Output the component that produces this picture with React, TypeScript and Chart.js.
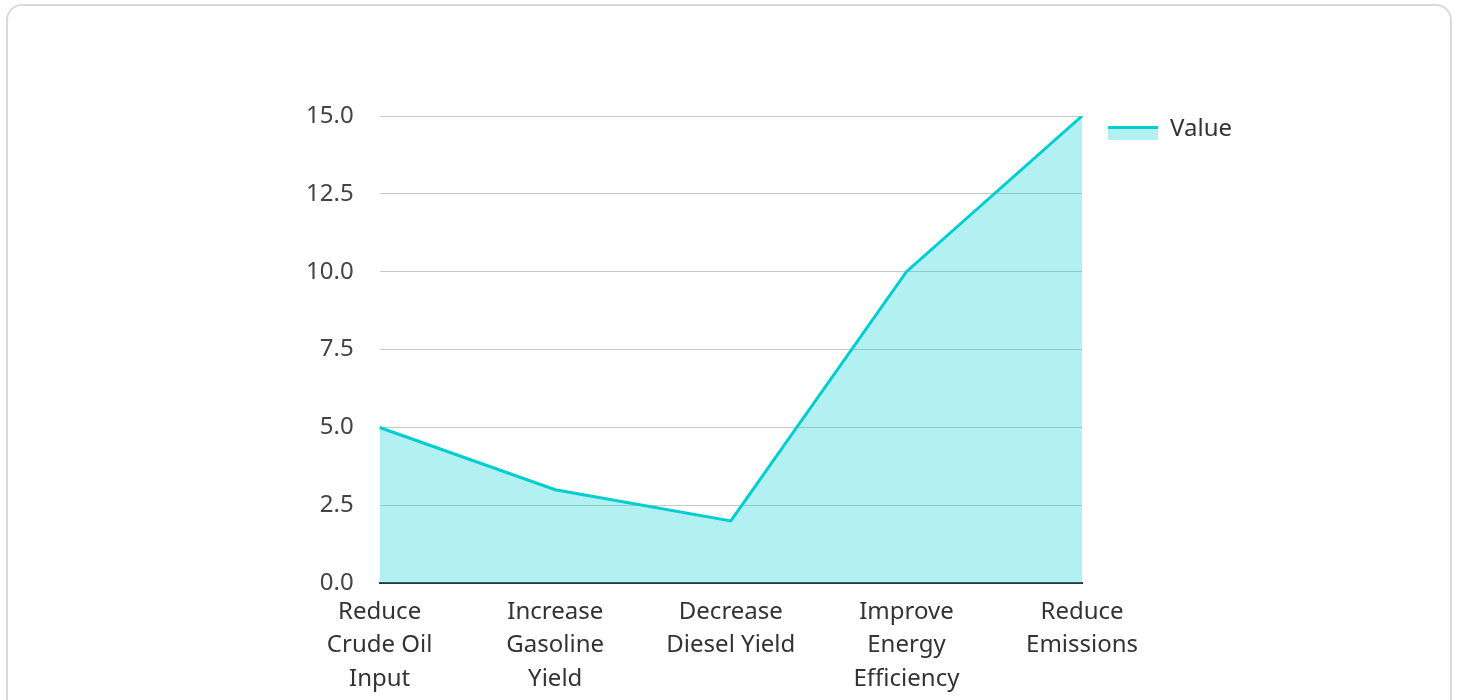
import React, { useEffect, useRef } from "react";
import { Chart, registerables } from "chart.js";

Chart.register(...registerables);

const categories: string[][] = [
  ["Reduce", "Crude Oil", "Input"],
  ["Increase", "Gasoline", "Yield"],
  ["Decrease", "Diesel Yield"],
  ["Improve", "Energy", "Efficiency"],
  ["Reduce", "Emissions"],
];
const seriesName = "Value";
const values: number[] = [5, 3, 2, 10, 15];
const yMin = 0;
const yMax = 15;
const yStep = 2.5;

const LINE = "rgb(0,206,209)";
const FILL = "rgba(0,206,209,0.3)";
const FONT = "'Noto Sans', sans-serif";

const legendBoxPlugin = {
  id: "legendBoxPlugin",
  afterDraw(chart: any) {
    const lg = chart.legend;
    if (!lg || !lg.legendHitBoxes || !lg.legendHitBoxes.length) return;
    const hb = lg.legendHitBoxes[0];
    const ctx = chart.ctx;
    const x = hb.left;
    const top = hb.top + hb.height / 2 - 3;
    ctx.save();
    ctx.fillStyle = FILL;
    ctx.fillRect(x, top, 50, 14);
    ctx.fillStyle = LINE;
    ctx.fillRect(x, top, 50, 3);
    ctx.restore();
  },
};

export default function App() {
  const ref = useRef<HTMLCanvasElement | null>(null);
  useEffect(() => {
    if (!ref.current) return;
    const chart = new Chart(ref.current, {
      type: "line",
      data: {
        labels: categories,
        datasets: [
          {
            label: seriesName,
            data: values,
            borderColor: LINE,
            backgroundColor: FILL,
            borderWidth: 3,
            fill: "origin",
            tension: 0,
            pointRadius: 0,
            pointHoverRadius: 0,
          },
        ],
      },
      options: {
        animation: false,
        responsive: false,
        maintainAspectRatio: false,
        layout: { padding: { left: 280, right: 216, top: 116, bottom: 10 } },
        plugins: {
          tooltip: { enabled: false },
          legend: {
            position: "right",
            align: "start",
            labels: {
              boxWidth: 50,
              boxHeight: 14,
              padding: 1,
              color: "#333",
              font: { family: FONT, size: 24 },
              generateLabels: (c: any) =>
                c.data.datasets.map((d: any, i: number) => ({
                  text: d.label,
                  fillStyle: "rgba(0,0,0,0)",
                  strokeStyle: "rgba(0,0,0,0)",
                  lineWidth: 0,
                  datasetIndex: i,
                  fontColor: "#333",
                })),
            },
          },
        },
        scales: {
          x: {
            offset: false,
            grid: { display: false },
            border: { display: true, color: "#333", width: 2 },
            ticks: {
              color: "#333",
              padding: 4,
              maxRotation: 0,
              autoSkip: false,
              font: { family: FONT, size: 24, lineHeight: 1.4 },
            },
          },
          y: {
            min: yMin,
            max: yMax,
            grid: { color: "#c8c8c8", lineWidth: 1, drawTicks: false },
            border: { display: false },
            ticks: {
              stepSize: yStep,
              color: "#444",
              padding: 26,
              font: { family: FONT, size: 24 },
              callback: (v: any) => Number(v).toFixed(1),
            },
          },
          gap: {
            type: "linear",
            position: "right",
            display: true,
            grid: { display: false, drawTicks: false },
            border: { display: false },
            ticks: { display: false },
            afterFit: (s: any) => {
              s.width = 25;
            },
          },
        },
      },
      plugins: [legendBoxPlugin],
    });
    return () => chart.destroy();
  }, []);

  return (
    <div>
      <div
        style={{
          position: "fixed",
          left: 6,
          top: 4,
          width: 1446,
          height: 800,
          boxSizing: "border-box",
          border: "2px solid #d9d9d9",
          borderRadius: 16,
          background: "#fff",
        }}
      />
      <canvas
        ref={ref}
        width={1458}
        height={710}
        style={{ position: "fixed", left: 0, top: 0, width: 1458, height: 710 }}
      />
    </div>
  );
}
